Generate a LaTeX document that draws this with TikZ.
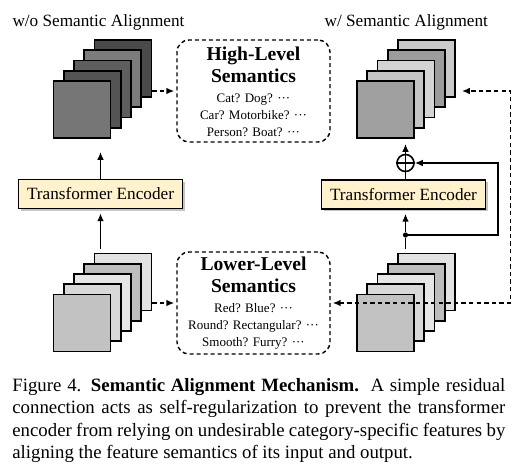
\documentclass[tikz,border=0pt]{standalone}
\usepackage{fontspec}
\setmainfont{Liberation Serif}
\usetikzlibrary{arrows.meta,calc,shadows}
\definecolor{EncFill}{RGB}{255,242,204}
\definecolor{HighA}{RGB}{118,118,118}
\definecolor{HighB}{RGB}{84,84,84}
\definecolor{HighC}{RGB}{94,94,94}
\definecolor{HighD}{RGB}{124,124,124}
\definecolor{HighE}{RGB}{74,74,74}
\definecolor{AlignA}{RGB}{160,160,160}
\definecolor{AlignB}{RGB}{196,196,196}
\definecolor{AlignC}{RGB}{212,212,212}
\definecolor{AlignD}{RGB}{156,156,156}
\definecolor{AlignE}{RGB}{202,202,202}
\definecolor{LowA}{RGB}{194,194,194}
\definecolor{LowB}{RGB}{216,216,216}
\definecolor{LowC}{RGB}{230,230,230}
\definecolor{LowD}{RGB}{189,189,189}
\definecolor{LowE}{RGB}{226,226,226}
\tikzset{
  >=Latex,
  feat/.style={draw=black,line width=.9pt,minimum size=28.5pt,inner sep=0pt},
  encoder/.style={draw=black,line width=.7pt,fill=EncFill,minimum width=82pt,minimum height=14.5pt,inner sep=0pt,font=\fontsize{8.6}{10}\selectfont,drop shadow={shadow xshift=1.2pt,shadow yshift=-1.2pt,fill=black!45}},
  sembox/.style={draw=black,line width=.7pt,dash pattern=on 2pt off 1.5pt,rounded corners=6pt,minimum width=76.5pt,minimum height=51pt,inner sep=0pt},
  semtitle/.style={font=\fontsize{9.8}{11}\selectfont\bfseries,anchor=base,inner sep=0pt},
  semitem/.style={font=\fontsize{6.5}{8}\selectfont,anchor=base,inner sep=0pt},
  heading/.style={font=\fontsize{8.6}{10}\selectfont,anchor=base,inner sep=0pt},
  caption/.style={anchor=north west,inner sep=0pt,text width=246.5pt,align=justify,font=\fontsize{9.4}{11.25}\selectfont},
  flow/.style={-{Latex[length=4pt,width=3.4pt]},line width=.8pt},
  feedback/.style={{Latex[length=4pt,width=3.4pt]}-{Latex[length=4pt,width=3.4pt]},line width=.8pt,dash pattern=on 2.2pt off 1.6pt},
  probe/.style={-{Latex[length=4pt,width=3.4pt]},line width=.8pt,dash pattern=on 2.2pt off 1.6pt},
  dot/.style={circle,fill=black,inner sep=0pt,minimum size=2.6pt},
  addop/.style={circle,draw=black,line width=.8pt,minimum size=8.5pt,inner sep=0pt}
}
\begin{document}
\begin{tikzpicture}[x=.5pt,y=-.5pt]
  \useasboundingbox (0,0) rectangle (532,472);
  \node[heading] (hleft) at (98.5,26.7) {w/o Semantic Alignment};
  \node[heading] (hright) at (406.3,26.7) {w/ Semantic Alignment};
  % feature stacks, back to front
  \foreach \i/\c in {5/HighE,4/HighD,3/HighC,2/HighB,1/HighA}{\node[feat,fill=\c] (tl\i) at ({82+10.25*(\i-1)},{109.5-10.25*(\i-1)}) {};}
  \foreach \i/\c in {5/AlignE,4/AlignD,3/AlignC,2/AlignB,1/AlignA}{\node[feat,fill=\c] (tr\i) at ({385.5+10.25*(\i-1)},{109.5-10.25*(\i-1)}) {};}
  \foreach \i/\c in {5/LowE,4/LowD,3/LowC,2/LowB,1/LowA}{\node[feat,fill=\c] (bl\i) at ({82+10.25*(\i-1)},{323-10.25*(\i-1)}) {};}
  \foreach \i/\c in {5/LowE,4/LowD,3/LowC,2/LowB,1/LowA}{\node[feat,fill=\c] (br\i) at ({385.5+10.25*(\i-1)},{323-10.25*(\i-1)}) {};}
  \node[encoder] (encL) at (100.5,194) {Transformer Encoder};
  \node[encoder] (encR) at (403.5,194.5) {Transformer Encoder};
  % semantic boxes
  \node[sembox] (hls) at (253.5,91) {};
  \node[semtitle] (hlsA) at (253.5,60) {High-Level};
  \node[semtitle] (hlsB) at (253.5,82.3) {Semantics};
  \node[semitem] (hlsC) at (253.5,102.7) {Cat? Dog? ···};
  \node[semitem] (hlsD) at (253.5,119.5) {Car? Motorbike? ···};
  \node[semitem] (hlsE) at (253.5,136.5) {Person? Boat? ···};
  \node[sembox] (lls) at (253.5,303) {};
  \node[semtitle] (llsA) at (253.5,270.5) {Lower-Level};
  \node[semtitle] (llsB) at (253.5,292.5) {Semantics};
  \node[semitem] (llsC) at (253.5,312) {Red? Blue? ···};
  \node[semitem] (llsD) at (253.5,329.5) {Round? Rectangular? ···};
  \node[semitem] (llsE) at (253.5,346.5) {Smooth? Furry? ···};
  % left branch
  \draw[flow,shorten <=2pt,shorten >=2pt] (encL.south |- bl5.north) -- (encL.south);
  \draw[flow,shorten >=6.5pt] (encL.north) -- (encL.north |- tl1.south);
  \draw[probe,shorten >=1pt] (tl5.south east |- hls.west) -- (hls.west);
  \draw[probe,shorten >=1pt] (bl5.south east |- lls.west) -- (lls.west);
  % right branch with residual
  \node[addop] (add) at (405.5,163) {};
  \draw[line width=.8pt] (add.north) -- (add.south) (add.west) -- (add.east);
  \node[dot] (split) at (405.5,235) {};
  \coordinate (bend) at (498,235);
  \coordinate (fb) at (510.7,303);
  \draw[line width=.8pt,shorten <=2pt] (split |- br5.north) -- (split);
  \draw[flow,shorten >=2pt] (split) -- (split |- encR.south);
  \draw[line width=.8pt] (add |- encR.north) -- (add.south);
  \draw[flow,shorten >=2.5pt] (add.north) -- (add |- tr1.south);
  \draw[flow] (split) -- (bend) |- (add.east);
  \draw[feedback,shorten <=1pt,shorten >=3pt] (lls.east) -- (fb) |- (tr5.south east |- hls.east);
  % caption
  \node[caption] (cap) at (12,378) {Figure 4. \textbf{Semantic Alignment Mechanism.}\ \ A simple residual\linebreak connection acts as self-regularization to prevent the transformer\linebreak encoder from relying on undesirable category-specific features by\linebreak aligning the feature semantics of its input and output.};
\end{tikzpicture}
\end{document}
